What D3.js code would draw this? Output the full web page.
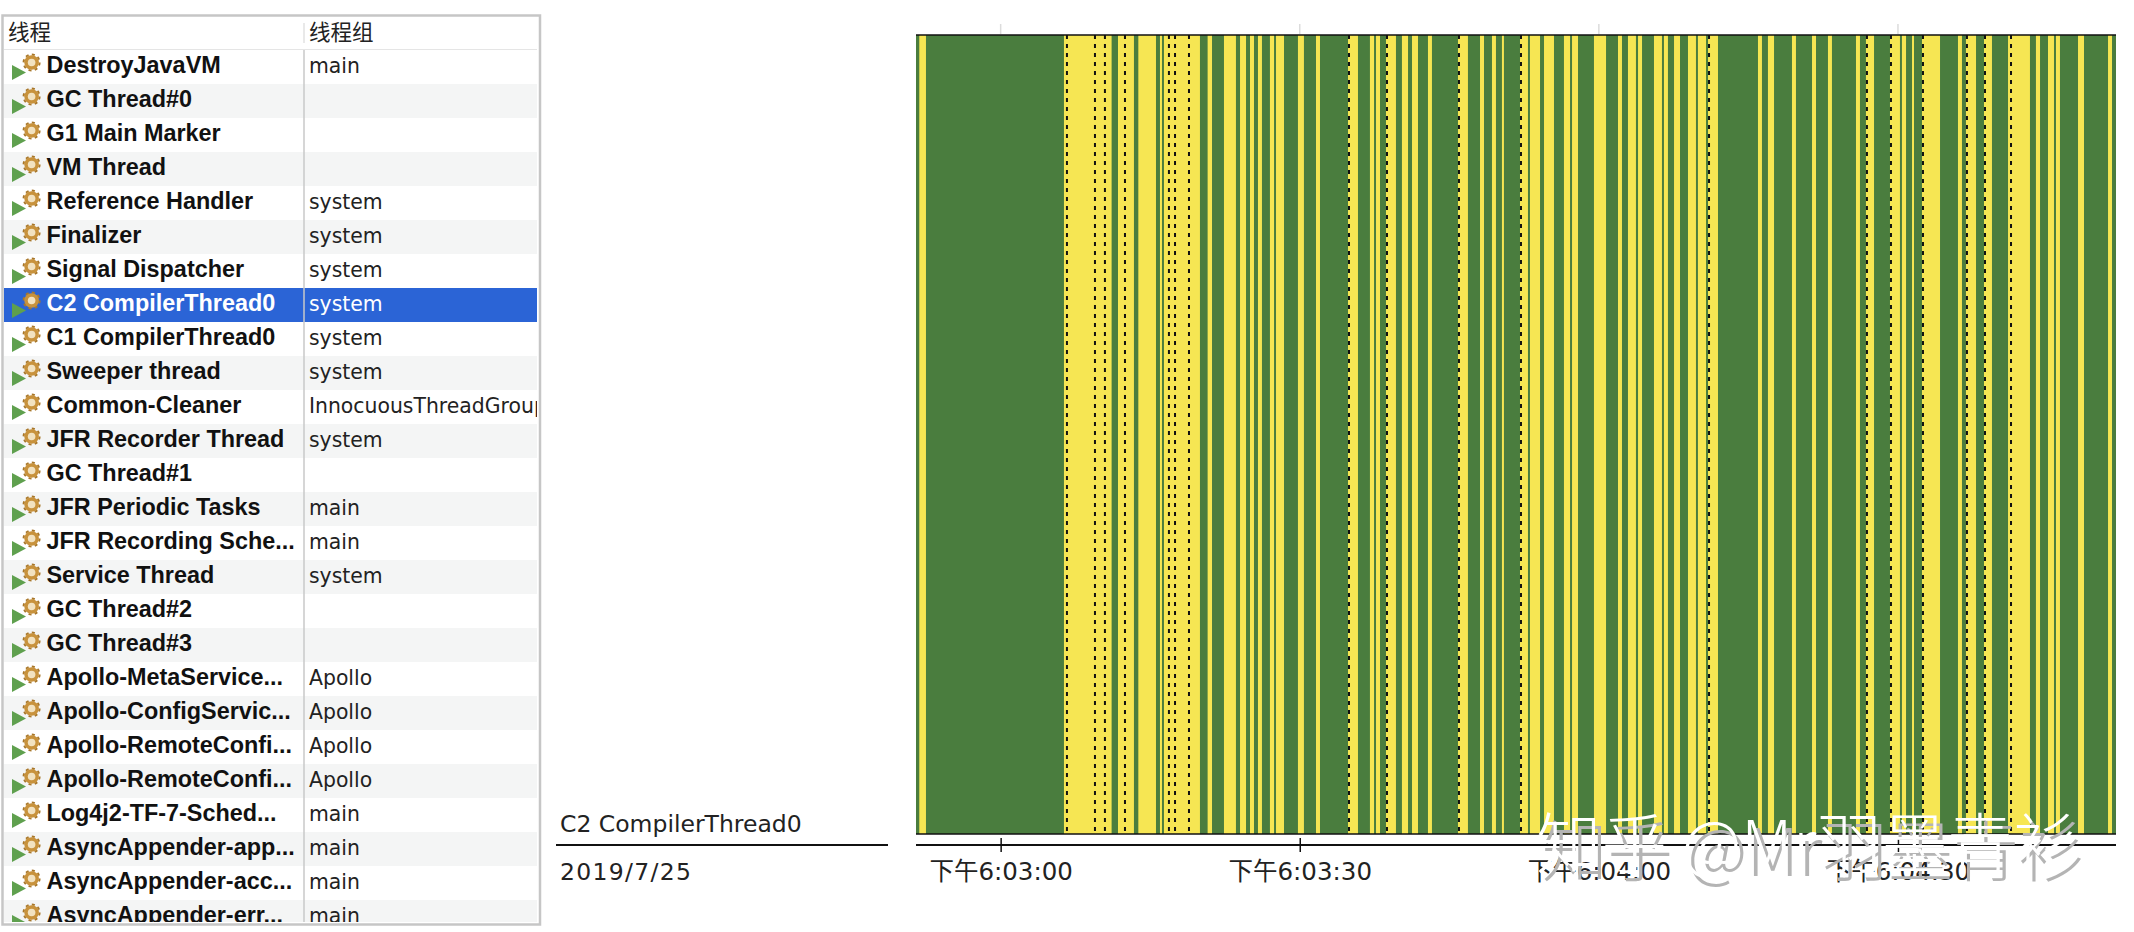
<!DOCTYPE html>
<html>
<head>
<meta charset="utf-8">
<script src="https://cdn.jsdelivr.net/npm/d3@7"></script>
<style>
body { margin: 0; background: #fff; }
svg { display: block; }
text { font-family: "DejaVu Sans", "Noto Sans CJK SC", sans-serif; }
</style>
</head>
<body>
<div id="main"></div>
<script>
const threadNames = ['DestroyJavaVM','GC Thread#0','G1 Main Marker','VM Thread','Reference Handler','Finalizer','Signal Dispatcher','C2 CompilerThread0','C1 CompilerThread0','Sweeper thread','Common-Cleaner','JFR Recorder Thread','GC Thread#1','JFR Periodic Tasks','JFR Recording Sche...','Service Thread','GC Thread#2','GC Thread#3','Apollo-MetaService...','Apollo-ConfigServic...','Apollo-RemoteConfi...','Apollo-RemoteConfi...','Log4j2-TF-7-Sched...','AsyncAppender-app...','AsyncAppender-acc...','AsyncAppender-err...'];
const threadGroups = ['main','','','','system','system','system','system','system','system','InnocuousThreadGroup','system','','main','main','system','','','Apollo','Apollo','Apollo','Apollo','main','main','main','main'];
const tableHeaders = ['线程','线程组'];
const selectedThread = 'C2 CompilerThread0';
const selectedDate = '2019/7/25';
const watermark = '知乎 @Mr羽墨青衫';

// seconds after 18:03:00
const timeRange = [-8.49, 111.87];
const tickSeconds = [0, 30, 60, 90];
const yellowStarts = [-8.16,6.35,11.77,13.81,15.98,16.38,20.76,22.40,24.01,25.01,25.81,27.01,27.62,29.82,31.63,34.84,37.04,37.65,38.65,40.25,41.26,42.86,45.87,48.08,49.28,50.28,52.09,53.09,54.50,56.50,57.31,59.51,61.92,62.92,63.93,65.53,66.53,67.54,68.94,69.94,70.95,75.96,76.96,79.37,81.38,82.98,85.79,86.79,89.20,90.40,91.41,92.41,96.02,96.82,98.63,101.04,103.84,105.05,105.85,108.06,111.07];
const yellowEnds = [-7.49,11.13,13.37,15.58,16.18,19.99,21.20,23.60,24.61,25.41,26.21,27.42,28.42,30.42,32.03,35.84,37.45,38.05,39.65,40.86,41.86,43.26,46.87,48.48,49.68,50.48,52.89,54.10,55.50,57.11,57.91,60.72,62.32,63.72,64.33,66.33,66.93,68.14,69.74,70.75,71.95,76.36,77.57,79.77,81.78,83.38,86.19,87.60,90.20,90.81,91.61,94.22,96.42,97.83,99.43,103.24,104.25,105.65,106.25,108.66,111.47];
const dottedSeconds = [6.65,9.46,10.46,12.47,16.88,17.49,18.89,34.94,38.75,45.97,52.19,71.05,86.89,89.30,92.51,96.92,98.73,101.34];

const w = 2134;
const h = 932;
const rowTop = 50;
const rowH = 34;
const colX = 304;
const tableRight = 537;
const plotLeft = 916;
const plotRight = 2116;
const plotTop = 35;
const plotBottom = 834;
const axisY = 845;

const svg = d3.select('#main')
              .append('svg')
              .attr('width',w)
              .attr('height',h);

// ---- thread table
const defs = svg.append('defs');
defs.append('clipPath').attr('id','rowsClip')
    .append('rect').attr('x',4).attr('y',rowTop).attr('width',tableRight-4).attr('height',872);
defs.append('clipPath').attr('id','groupClip')
    .append('rect').attr('x',colX).attr('y',rowTop).attr('width',tableRight-colX).attr('height',872);

svg.append('rect')
   .attr('x',2.5).attr('y',15.5).attr('width',537.5).attr('height',909)
   .attr('fill','white').attr('stroke','#c6c6c6').attr('stroke-width',2.5);

svg.selectAll('.header')
   .data(tableHeaders)
   .enter()
   .append('text')
   .attr('class','header')
   .attr('x',(d,i)=> i==0 ? 8 : 309)
   .attr('y',40)
   .attr('font-size','21.5px')
   .attr('fill','#222')
   .text(d=>d);

svg.append('line').attr('x1',4).attr('x2',tableRight).attr('y1',rowTop).attr('y2',rowTop)
   .attr('stroke','#dcdcdc').attr('stroke-width',1.5);
svg.append('line').attr('x1',colX).attr('x2',colX).attr('y1',23).attr('y2',43)
   .attr('stroke','#e2e2e2').attr('stroke-width',1.5);

const rows = svg.append('g')
                .attr('clip-path','url(#rowsClip)')
                .selectAll('g')
                .data(threadNames)
                .enter()
                .append('g')
                .attr('transform',(d,i)=>'translate(0,'+(rowTop + i*rowH)+')');

rows.append('rect')
    .attr('x',4)
    .attr('width',tableRight-4)
    .attr('height',rowH)
    .attr('fill',(d,i)=> d==selectedThread ? '#2b64d6' : (i%2 ? '#f4f5f5' : 'white'));

rows.append('path')
    .attr('d','M12,15 L26,22.5 L12,30 Z')
    .attr('fill','#5fa04e');

rows.append('circle')
    .attr('cx',31.6).attr('cy',12.5).attr('r',8)
    .attr('fill','none').attr('stroke','#a8772a').attr('stroke-width',2)
    .attr('stroke-dasharray','3 3.28');
rows.append('circle')
    .attr('cx',31.6).attr('cy',12.5).attr('r',7.3)
    .attr('fill','#c8923c');
rows.append('circle')
    .attr('cx',31.6).attr('cy',12.5).attr('r',3.8)
    .attr('fill','#f2e2c0');

rows.append('text')
    .attr('x',46.5)
    .attr('y',23)
    .attr('font-size','23.4px')
    .attr('font-weight','bold')
    .style('font-family','"Liberation Sans", sans-serif')
    .attr('fill',d=> d==selectedThread ? 'white' : '#111')
    .text(d=>d);

svg.append('g')
   .attr('clip-path','url(#groupClip)')
   .selectAll('text')
   .data(threadGroups)
   .enter()
   .append('text')
   .attr('x',309)
   .attr('y',(d,i)=> rowTop + i*rowH + 23)
   .attr('font-size','20.4px')
   .attr('fill',(d,i)=> threadNames[i]==selectedThread ? 'white' : '#222')
   .text(d=>d);

svg.append('line').attr('x1',colX).attr('x2',colX).attr('y1',rowTop).attr('y2',922)
   .attr('stroke','#c8c8c8').attr('stroke-width',1.5);

// ---- selected thread labels
svg.append('text').attr('x',560).attr('y',832).attr('font-size','23.5px').attr('fill','#222').text(selectedThread);
svg.append('line').attr('x1',556).attr('x2',888).attr('y1',845).attr('y2',845)
   .attr('stroke','#111').attr('stroke-width',2);
svg.append('text').attr('x',560).attr('y',880).attr('font-size','23.5px').attr('letter-spacing','1.3px').attr('fill','#222').text(selectedDate);

// ---- timeline
const startTime = new Date(2019,6,25,18,3,0);
const toDate = s => new Date(startTime.getTime() + s*1000);

const xScale = d3.scaleTime()
                 .domain(timeRange.map(toDate))
                 .range([plotLeft, plotRight]);

svg.append('rect')
   .attr('x',xScale(toDate(timeRange[0])))
   .attr('y',plotTop)
   .attr('width',xScale(toDate(timeRange[1])) - xScale(toDate(timeRange[0])))
   .attr('height',plotBottom-plotTop)
   .attr('fill','#4a7d3e');

svg.selectAll('.yellow')
   .data(yellowStarts)
   .enter()
   .append('rect')
   .attr('class','yellow')
   .attr('x',d=>xScale(toDate(d)))
   .attr('y',plotTop)
   .attr('width',(d,i)=>xScale(toDate(yellowEnds[i])) - xScale(toDate(d)))
   .attr('height',plotBottom-plotTop)
   .attr('fill','#f6e653');

svg.selectAll('.dotted')
   .data(dottedSeconds)
   .enter()
   .append('line')
   .attr('class','dotted')
   .attr('x1',d=>xScale(toDate(d)))
   .attr('x2',d=>xScale(toDate(d)))
   .attr('y1',plotTop)
   .attr('y2',plotBottom)
   .attr('stroke','#111')
   .attr('stroke-width',2)
   .attr('stroke-dasharray','4 5');

svg.append('line').attr('x1',plotLeft).attr('x2',plotRight).attr('y1',plotTop).attr('y2',plotTop)
   .attr('stroke','#111').attr('stroke-width',1.6);
svg.append('line').attr('x1',plotLeft).attr('x2',plotRight).attr('y1',plotBottom).attr('y2',plotBottom)
   .attr('stroke','#111').attr('stroke-width',1.6);

// light ticks above the plot
svg.selectAll('.topTick')
   .data(tickSeconds)
   .enter()
   .append('line')
   .attr('class','topTick')
   .attr('x1',d=>xScale(toDate(d)))
   .attr('x2',d=>xScale(toDate(d)))
   .attr('y1',24)
   .attr('y2',34)
   .attr('stroke','#dcdcdc')
   .attr('stroke-width',1.5);

const xAxis = d3.axisBottom(xScale)
                .tickValues(tickSeconds.map(toDate))
                .tickFormat(d3.timeFormat('下午%-I:%M:%S'))
                .tickSize(7)
                .tickPadding(11);

const axisG = svg.append('g')
                 .attr('transform','translate(0,'+axisY+')')
                 .call(xAxis);
axisG.select('.domain')
     .attr('d','M'+plotLeft+',0H'+plotRight)
     .attr('stroke','#111')
     .attr('stroke-width',2);
axisG.selectAll('.tick line')
     .attr('y1',-7)
     .attr('stroke','#111')
     .attr('stroke-width',1.5);
axisG.selectAll('.tick text')
     .attr('font-family','"DejaVu Sans", "Noto Sans CJK SC", sans-serif')
     .attr('font-size','24.5px')
     .attr('fill','#222');

// ---- watermark
svg.append('text')
   .attr('x',1542).attr('y',876)
   .attr('font-size','65.5px')
   .attr('font-weight','300')
   .attr('fill','#b4b4b4')
   .style('font-family','"Noto Sans CJK SC", sans-serif')
   .text(watermark);
svg.append('text')
   .attr('x',1536).attr('y',868)
   .attr('font-size','65.5px')
   .attr('font-weight','300')
   .attr('fill','white')
   .style('font-family','"Noto Sans CJK SC", sans-serif')
   .text(watermark);
</script>
</body>
</html>
